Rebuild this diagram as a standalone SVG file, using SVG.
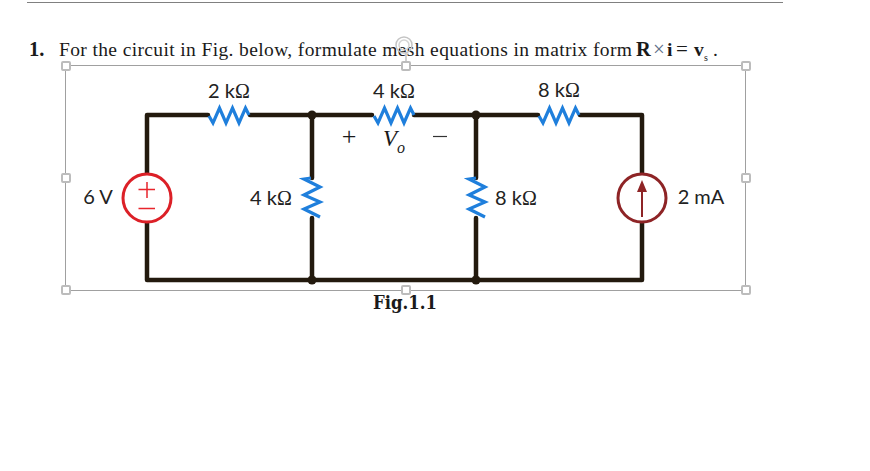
<svg xmlns="http://www.w3.org/2000/svg" width="870" height="471" viewBox="0 0 870 471">
<style>
.t{font-family:"Liberation Serif",serif;font-size:19.500px;fill:#1a1a1a}
.b{font-weight:bold}
.l{font-family:"Lato","Open Sans",sans-serif;font-size:20px;fill:#222;text-anchor:middle}
.o{font-family:"Liberation Serif",serif}
.w{fill:none;stroke:#231a0e;stroke-width:4.500;stroke-linejoin:round;stroke-linecap:round}
.r{fill:none;stroke:#1f7fdc;stroke-width:3.200;stroke-linejoin:miter}
.h{fill:#fff;stroke:#bcbcbc;stroke-width:2}
.f{fill:none;stroke:#a0a0a0;stroke-width:1}
</style>
<defs>
<polyline id="rh" class="r" points="0,8 4,15 10.500,0 17,15 23.500,0 30,15 36.500,0 40,7"/>
<polyline id="rv" class="r" points="8,0 1,1 17,9 1,17 17,24 1,31 17,39"/>
<rect id="hd" class="h" x="-4" y="-4" width="8" height="8" rx="1"/>
</defs>
<rect width="870" height="471" fill="#fff"/>
<line x1="27" y1="2.500" x2="783" y2="2.500" stroke="#808080" stroke-width="1"/>
<g id="title">
<text class="t b" x="29" y="56" style="font-size:20.500px">1.</text>
<text class="t" x="59" y="56" textLength="573" lengthAdjust="spacing">For the circuit in Fig. below, formulate mesh equations in matrix form</text>
<text class="t b" x="636" y="56" style="font-size:20.500px">R</text>
<text class="t" x="653" y="56" style="fill:#5f6f8a;font-size:21px">×</text>
<text class="t b" x="667" y="56">i</text>
<text class="t" x="676" y="56" style="font-size:21px">=</text>
<text class="t b" x="694" y="56">v</text>
<text class="t" x="704" y="61" style="font-size:10px">s</text>
<text class="t" x="713" y="56">.</text>
</g>
<g id="frame">
<rect class="f" x="65.500" y="65.500" width="680" height="225"/>
<line class="f" x1="406" y1="52" x2="406" y2="62"/>
<circle cx="404" cy="45" r="8" fill="none" stroke="#c4c4c4" stroke-width="1.500"/>
<circle cx="404" cy="45" r="5" fill="none" stroke="#d4d4d4" stroke-width="1.500"/>
</g>
<g id="connectors">
<path class="w" d="M147 174V115H208M250 115H372M414 115H538M580 115H642V174"/>
<path class="w" d="M147 222V280H642V222"/>
<path class="w" d="M312 115V178M312 218V280M476 115V178M476 218V280"/>
<circle cx="312" cy="115" r="4.500" fill="#231a0e"/>
<circle cx="476" cy="115" r="4.500" fill="#231a0e"/>
<circle cx="312" cy="280" r="4.500" fill="#231a0e"/>
<circle cx="476" cy="280" r="4.500" fill="#231a0e"/>
</g>
<g id="r1"><use href="#rh" x="209" y="108"/><text class="l" x="229" y="98">2 k<tspan class="o">Ω</tspan></text></g>
<g id="r2"><use href="#rh" x="374" y="108"/><text class="l" x="394" y="98">4 k<tspan class="o">Ω</tspan></text></g>
<g id="r3"><use href="#rh" x="539" y="108"/><text class="l" x="559" y="97">8 k<tspan class="o">Ω</tspan></text></g>
<g id="r4"><use href="#rv" x="303" y="178"/><text class="l" x="271" y="205">4 k<tspan class="o">Ω</tspan></text></g>
<g id="r5"><use href="#rv" x="468" y="178"/><text class="l" x="516" y="205">8 k<tspan class="o">Ω</tspan></text></g>
<g id="vs">
<circle cx="147" cy="198" r="24" fill="#fff" stroke="#dc2027" stroke-width="3"/>
<path d="M138.500 189.500H155M147 182V198M138.500 208.500H155" stroke="#e8252c" stroke-width="1.500" fill="none"/>
<text class="l" x="98" y="204">6 V</text>
</g>
<g id="cs">
<circle cx="642" cy="198" r="24" fill="#fff" stroke="#8e2426" stroke-width="3"/>
<path d="M642 217V190" stroke="#8e2426" stroke-width="2"/>
<path d="M642 180L637 192H647Z" fill="#8e2426"/>
<text class="l" x="701" y="204">2 mA</text>
</g>
<g id="vo">
<text class="t" x="349" y="145" style="font-size:26px" text-anchor="middle">+</text>
<text class="t" x="390" y="146" style="font-size:23px;font-style:italic" text-anchor="middle">V</text>
<text class="t" x="401" y="153" style="font-size:16px;font-style:italic" text-anchor="middle">o</text>
<line x1="433" y1="136.500" x2="447" y2="136.500" stroke="#333" stroke-width="1.200"/>
</g>
<g id="handles">
<use href="#hd" x="66" y="66"/><use href="#hd" x="406" y="66"/><use href="#hd" x="746" y="66"/>
<use href="#hd" x="66" y="178"/><use href="#hd" x="746" y="178"/>
<use href="#hd" x="66" y="290"/><use href="#hd" x="406" y="290"/><use href="#hd" x="746" y="290"/>
</g>
<g id="caption"><text x="405" y="309" text-anchor="middle" textLength="64" lengthAdjust="spacingAndGlyphs" style="font-family:'DejaVu Serif',serif;font-weight:bold;font-size:18px;fill:#1a1a1a">Fig.1.1</text></g>
</svg>
